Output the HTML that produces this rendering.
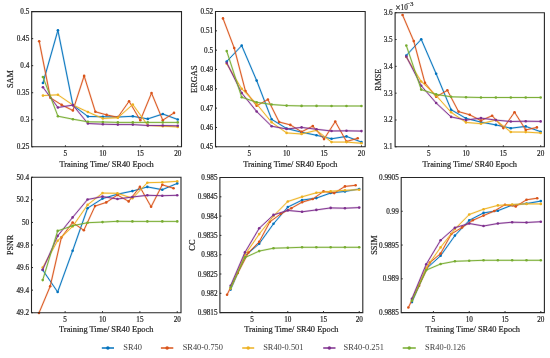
<!DOCTYPE html><html><head><meta charset="utf-8"><style>html,body{margin:0;padding:0;background:#fff;width:550px;height:358px;overflow:hidden}svg{display:block;will-change:transform}</style></head><body>
<svg width="550" height="358" viewBox="0 0 550 358"><style>text{stroke:#262626;stroke-width:0.20px}</style>
<rect width="550" height="358" fill="#fff"/>
<polyline points="42.94,83.00 57.92,30.30 72.90,105.10 87.88,116.50 102.86,116.70 117.84,117.00 132.81,116.30 147.79,118.90 162.77,114.00 177.75,119.50" fill="none" stroke="#0072BD" stroke-width="2.0" stroke-opacity="0.22" stroke-linejoin="round"/>
<polyline points="42.94,83.00 57.92,30.30 72.90,105.10 87.88,116.50 102.86,116.70 117.84,117.00 132.81,116.30 147.79,118.90 162.77,114.00 177.75,119.50" fill="none" stroke="#0072BD" stroke-width="0.95" stroke-linejoin="round"/>
<circle cx="42.94" cy="83.00" r="1.30" fill="#0072BD"/>
<circle cx="57.92" cy="30.30" r="1.30" fill="#0072BD"/>
<circle cx="72.90" cy="105.10" r="1.30" fill="#0072BD"/>
<circle cx="87.88" cy="116.50" r="1.30" fill="#0072BD"/>
<circle cx="102.86" cy="116.70" r="1.30" fill="#0072BD"/>
<circle cx="117.84" cy="117.00" r="1.30" fill="#0072BD"/>
<circle cx="132.81" cy="116.30" r="1.30" fill="#0072BD"/>
<circle cx="147.79" cy="118.90" r="1.30" fill="#0072BD"/>
<circle cx="162.77" cy="114.00" r="1.30" fill="#0072BD"/>
<circle cx="177.75" cy="119.50" r="1.30" fill="#0072BD"/>
<polyline points="39.19,41.20 50.42,97.80 61.66,104.90 72.90,110.50 84.13,75.90 95.37,111.80 106.60,114.90 117.84,117.30 129.07,101.30 140.31,120.30 151.54,93.10 162.77,120.20 174.01,112.90" fill="none" stroke="#D95319" stroke-width="2.0" stroke-opacity="0.22" stroke-linejoin="round"/>
<polyline points="39.19,41.20 50.42,97.80 61.66,104.90 72.90,110.50 84.13,75.90 95.37,111.80 106.60,114.90 117.84,117.30 129.07,101.30 140.31,120.30 151.54,93.10 162.77,120.20 174.01,112.90" fill="none" stroke="#D95319" stroke-width="0.95" stroke-linejoin="round"/>
<circle cx="39.19" cy="41.20" r="1.30" fill="#D95319"/>
<circle cx="50.42" cy="97.80" r="1.30" fill="#D95319"/>
<circle cx="61.66" cy="104.90" r="1.30" fill="#D95319"/>
<circle cx="72.90" cy="110.50" r="1.30" fill="#D95319"/>
<circle cx="84.13" cy="75.90" r="1.30" fill="#D95319"/>
<circle cx="95.37" cy="111.80" r="1.30" fill="#D95319"/>
<circle cx="106.60" cy="114.90" r="1.30" fill="#D95319"/>
<circle cx="117.84" cy="117.30" r="1.30" fill="#D95319"/>
<circle cx="129.07" cy="101.30" r="1.30" fill="#D95319"/>
<circle cx="140.31" cy="120.30" r="1.30" fill="#D95319"/>
<circle cx="151.54" cy="93.10" r="1.30" fill="#D95319"/>
<circle cx="162.77" cy="120.20" r="1.30" fill="#D95319"/>
<circle cx="174.01" cy="112.90" r="1.30" fill="#D95319"/>
<polyline points="42.94,95.60 57.92,94.80 72.90,105.00 87.88,112.00 102.86,118.50 117.84,117.70 132.81,104.50 147.79,125.40 162.77,126.20 177.75,126.90" fill="none" stroke="#EDB120" stroke-width="2.0" stroke-opacity="0.22" stroke-linejoin="round"/>
<polyline points="42.94,95.60 57.92,94.80 72.90,105.00 87.88,112.00 102.86,118.50 117.84,117.70 132.81,104.50 147.79,125.40 162.77,126.20 177.75,126.90" fill="none" stroke="#EDB120" stroke-width="0.95" stroke-linejoin="round"/>
<circle cx="42.94" cy="95.60" r="1.30" fill="#EDB120"/>
<circle cx="57.92" cy="94.80" r="1.30" fill="#EDB120"/>
<circle cx="72.90" cy="105.00" r="1.30" fill="#EDB120"/>
<circle cx="87.88" cy="112.00" r="1.30" fill="#EDB120"/>
<circle cx="102.86" cy="118.50" r="1.30" fill="#EDB120"/>
<circle cx="117.84" cy="117.70" r="1.30" fill="#EDB120"/>
<circle cx="132.81" cy="104.50" r="1.30" fill="#EDB120"/>
<circle cx="147.79" cy="125.40" r="1.30" fill="#EDB120"/>
<circle cx="162.77" cy="126.20" r="1.30" fill="#EDB120"/>
<circle cx="177.75" cy="126.90" r="1.30" fill="#EDB120"/>
<polyline points="42.94,87.20 57.92,107.50 72.90,105.10 87.88,123.50 102.86,124.20 117.84,124.60 132.81,124.60 147.79,125.50 162.77,125.50 177.75,125.80" fill="none" stroke="#7E2F8E" stroke-width="2.0" stroke-opacity="0.22" stroke-linejoin="round"/>
<polyline points="42.94,87.20 57.92,107.50 72.90,105.10 87.88,123.50 102.86,124.20 117.84,124.60 132.81,124.60 147.79,125.50 162.77,125.50 177.75,125.80" fill="none" stroke="#7E2F8E" stroke-width="0.95" stroke-linejoin="round"/>
<circle cx="42.94" cy="87.20" r="1.30" fill="#7E2F8E"/>
<circle cx="57.92" cy="107.50" r="1.30" fill="#7E2F8E"/>
<circle cx="72.90" cy="105.10" r="1.30" fill="#7E2F8E"/>
<circle cx="87.88" cy="123.50" r="1.30" fill="#7E2F8E"/>
<circle cx="102.86" cy="124.20" r="1.30" fill="#7E2F8E"/>
<circle cx="117.84" cy="124.60" r="1.30" fill="#7E2F8E"/>
<circle cx="132.81" cy="124.60" r="1.30" fill="#7E2F8E"/>
<circle cx="147.79" cy="125.50" r="1.30" fill="#7E2F8E"/>
<circle cx="162.77" cy="125.50" r="1.30" fill="#7E2F8E"/>
<circle cx="177.75" cy="125.80" r="1.30" fill="#7E2F8E"/>
<polyline points="42.94,77.00 57.92,116.20 72.90,119.20 87.88,121.80 102.86,122.00 117.84,122.40 132.81,122.40 147.79,122.40 162.77,122.40 177.75,122.40" fill="none" stroke="#77AC30" stroke-width="2.0" stroke-opacity="0.22" stroke-linejoin="round"/>
<polyline points="42.94,77.00 57.92,116.20 72.90,119.20 87.88,121.80 102.86,122.00 117.84,122.40 132.81,122.40 147.79,122.40 162.77,122.40 177.75,122.40" fill="none" stroke="#77AC30" stroke-width="0.95" stroke-linejoin="round"/>
<circle cx="42.94" cy="77.00" r="1.30" fill="#77AC30"/>
<circle cx="57.92" cy="116.20" r="1.30" fill="#77AC30"/>
<circle cx="72.90" cy="119.20" r="1.30" fill="#77AC30"/>
<circle cx="87.88" cy="121.80" r="1.30" fill="#77AC30"/>
<circle cx="102.86" cy="122.00" r="1.30" fill="#77AC30"/>
<circle cx="117.84" cy="122.40" r="1.30" fill="#77AC30"/>
<circle cx="132.81" cy="122.40" r="1.30" fill="#77AC30"/>
<circle cx="147.79" cy="122.40" r="1.30" fill="#77AC30"/>
<circle cx="162.77" cy="122.40" r="1.30" fill="#77AC30"/>
<circle cx="177.75" cy="122.40" r="1.30" fill="#77AC30"/>
<path d="M31.70 11.60H181.50V146.80H31.70Z" fill="none" stroke="#262626" stroke-width="1.10"/>
<line x1="31.70" y1="146.80" x2="33.20" y2="146.80" stroke="#262626" stroke-width="1"/>
<text x="29.30" y="149.30" text-anchor="end" font-family='"Liberation Serif", serif' font-size="7.20" fill="#262626">0.25</text>
<line x1="31.70" y1="119.76" x2="33.20" y2="119.76" stroke="#262626" stroke-width="1"/>
<text x="29.30" y="122.26" text-anchor="end" font-family='"Liberation Serif", serif' font-size="7.20" fill="#262626">0.3</text>
<line x1="31.70" y1="92.72" x2="33.20" y2="92.72" stroke="#262626" stroke-width="1"/>
<text x="29.30" y="95.22" text-anchor="end" font-family='"Liberation Serif", serif' font-size="7.20" fill="#262626">0.35</text>
<line x1="31.70" y1="65.68" x2="33.20" y2="65.68" stroke="#262626" stroke-width="1"/>
<text x="29.30" y="68.18" text-anchor="end" font-family='"Liberation Serif", serif' font-size="7.20" fill="#262626">0.4</text>
<line x1="31.70" y1="38.64" x2="33.20" y2="38.64" stroke="#262626" stroke-width="1"/>
<text x="29.30" y="41.14" text-anchor="end" font-family='"Liberation Serif", serif' font-size="7.20" fill="#262626">0.45</text>
<line x1="31.70" y1="11.60" x2="33.20" y2="11.60" stroke="#262626" stroke-width="1"/>
<text x="29.30" y="14.10" text-anchor="end" font-family='"Liberation Serif", serif' font-size="7.20" fill="#262626">0.5</text>
<line x1="65.41" y1="146.80" x2="65.41" y2="145.30" stroke="#262626" stroke-width="1"/>
<text x="65.41" y="156.00" text-anchor="middle" font-family='"Liberation Serif", serif' font-size="7.20" fill="#262626">5</text>
<line x1="102.86" y1="146.80" x2="102.86" y2="145.30" stroke="#262626" stroke-width="1"/>
<text x="102.86" y="156.00" text-anchor="middle" font-family='"Liberation Serif", serif' font-size="7.20" fill="#262626">10</text>
<line x1="140.31" y1="146.80" x2="140.31" y2="145.30" stroke="#262626" stroke-width="1"/>
<text x="140.31" y="156.00" text-anchor="middle" font-family='"Liberation Serif", serif' font-size="7.20" fill="#262626">15</text>
<line x1="177.75" y1="146.80" x2="177.75" y2="145.30" stroke="#262626" stroke-width="1"/>
<text x="177.75" y="156.00" text-anchor="middle" font-family='"Liberation Serif", serif' font-size="7.20" fill="#262626">20</text>
<text x="106.60" y="166.50" text-anchor="middle" font-family='"Liberation Serif", serif' font-size="8.40" fill="#262626">Training Time/ SR40 Epoch</text>
<text x="0" y="0" transform="translate(13.00 79.20) rotate(-90)" text-anchor="middle" font-family='"Liberation Serif", serif' font-size="8.20" fill="#262626">SAM</text>
<polyline points="226.73,61.50 241.70,45.60 256.67,80.60 271.64,119.30 286.61,128.50 301.58,132.20 316.55,135.30 331.52,138.80 346.49,136.40 361.46,142.10" fill="none" stroke="#0072BD" stroke-width="2.0" stroke-opacity="0.22" stroke-linejoin="round"/>
<polyline points="226.73,61.50 241.70,45.60 256.67,80.60 271.64,119.30 286.61,128.50 301.58,132.20 316.55,135.30 331.52,138.80 346.49,136.40 361.46,142.10" fill="none" stroke="#0072BD" stroke-width="0.95" stroke-linejoin="round"/>
<circle cx="226.73" cy="61.50" r="1.30" fill="#0072BD"/>
<circle cx="241.70" cy="45.60" r="1.30" fill="#0072BD"/>
<circle cx="256.67" cy="80.60" r="1.30" fill="#0072BD"/>
<circle cx="271.64" cy="119.30" r="1.30" fill="#0072BD"/>
<circle cx="286.61" cy="128.50" r="1.30" fill="#0072BD"/>
<circle cx="301.58" cy="132.20" r="1.30" fill="#0072BD"/>
<circle cx="316.55" cy="135.30" r="1.30" fill="#0072BD"/>
<circle cx="331.52" cy="138.80" r="1.30" fill="#0072BD"/>
<circle cx="346.49" cy="136.40" r="1.30" fill="#0072BD"/>
<circle cx="361.46" cy="142.10" r="1.30" fill="#0072BD"/>
<polyline points="222.99,18.40 234.21,48.00 245.44,91.00 256.67,105.80 267.89,99.50 279.12,122.00 290.35,124.90 301.58,131.80 312.81,126.10 324.03,139.10 335.26,121.60 346.49,141.50 357.71,138.30" fill="none" stroke="#D95319" stroke-width="2.0" stroke-opacity="0.22" stroke-linejoin="round"/>
<polyline points="222.99,18.40 234.21,48.00 245.44,91.00 256.67,105.80 267.89,99.50 279.12,122.00 290.35,124.90 301.58,131.80 312.81,126.10 324.03,139.10 335.26,121.60 346.49,141.50 357.71,138.30" fill="none" stroke="#D95319" stroke-width="0.95" stroke-linejoin="round"/>
<circle cx="222.99" cy="18.40" r="1.30" fill="#D95319"/>
<circle cx="234.21" cy="48.00" r="1.30" fill="#D95319"/>
<circle cx="245.44" cy="91.00" r="1.30" fill="#D95319"/>
<circle cx="256.67" cy="105.80" r="1.30" fill="#D95319"/>
<circle cx="267.89" cy="99.50" r="1.30" fill="#D95319"/>
<circle cx="279.12" cy="122.00" r="1.30" fill="#D95319"/>
<circle cx="290.35" cy="124.90" r="1.30" fill="#D95319"/>
<circle cx="301.58" cy="131.80" r="1.30" fill="#D95319"/>
<circle cx="312.81" cy="126.10" r="1.30" fill="#D95319"/>
<circle cx="324.03" cy="139.10" r="1.30" fill="#D95319"/>
<circle cx="335.26" cy="121.60" r="1.30" fill="#D95319"/>
<circle cx="346.49" cy="141.50" r="1.30" fill="#D95319"/>
<circle cx="357.71" cy="138.30" r="1.30" fill="#D95319"/>
<polyline points="226.73,63.80 241.70,88.80 256.67,104.00 271.64,122.30 286.61,132.90 301.58,134.00 316.55,130.30 331.52,142.10 346.49,142.10 361.46,143.30" fill="none" stroke="#EDB120" stroke-width="2.0" stroke-opacity="0.22" stroke-linejoin="round"/>
<polyline points="226.73,63.80 241.70,88.80 256.67,104.00 271.64,122.30 286.61,132.90 301.58,134.00 316.55,130.30 331.52,142.10 346.49,142.10 361.46,143.30" fill="none" stroke="#EDB120" stroke-width="0.95" stroke-linejoin="round"/>
<circle cx="226.73" cy="63.80" r="1.30" fill="#EDB120"/>
<circle cx="241.70" cy="88.80" r="1.30" fill="#EDB120"/>
<circle cx="256.67" cy="104.00" r="1.30" fill="#EDB120"/>
<circle cx="271.64" cy="122.30" r="1.30" fill="#EDB120"/>
<circle cx="286.61" cy="132.90" r="1.30" fill="#EDB120"/>
<circle cx="301.58" cy="134.00" r="1.30" fill="#EDB120"/>
<circle cx="316.55" cy="130.30" r="1.30" fill="#EDB120"/>
<circle cx="331.52" cy="142.10" r="1.30" fill="#EDB120"/>
<circle cx="346.49" cy="142.10" r="1.30" fill="#EDB120"/>
<circle cx="361.46" cy="143.30" r="1.30" fill="#EDB120"/>
<polyline points="226.73,62.70 241.70,93.00 256.67,111.50 271.64,126.20 286.61,129.00 301.58,127.40 316.55,129.30 331.52,131.00 346.49,130.80 361.46,131.10" fill="none" stroke="#7E2F8E" stroke-width="2.0" stroke-opacity="0.22" stroke-linejoin="round"/>
<polyline points="226.73,62.70 241.70,93.00 256.67,111.50 271.64,126.20 286.61,129.00 301.58,127.40 316.55,129.30 331.52,131.00 346.49,130.80 361.46,131.10" fill="none" stroke="#7E2F8E" stroke-width="0.95" stroke-linejoin="round"/>
<circle cx="226.73" cy="62.70" r="1.30" fill="#7E2F8E"/>
<circle cx="241.70" cy="93.00" r="1.30" fill="#7E2F8E"/>
<circle cx="256.67" cy="111.50" r="1.30" fill="#7E2F8E"/>
<circle cx="271.64" cy="126.20" r="1.30" fill="#7E2F8E"/>
<circle cx="286.61" cy="129.00" r="1.30" fill="#7E2F8E"/>
<circle cx="301.58" cy="127.40" r="1.30" fill="#7E2F8E"/>
<circle cx="316.55" cy="129.30" r="1.30" fill="#7E2F8E"/>
<circle cx="331.52" cy="131.00" r="1.30" fill="#7E2F8E"/>
<circle cx="346.49" cy="130.80" r="1.30" fill="#7E2F8E"/>
<circle cx="361.46" cy="131.10" r="1.30" fill="#7E2F8E"/>
<polyline points="226.73,51.10 241.70,97.20 256.67,102.30 271.64,104.50 286.61,105.60 301.58,105.90 316.55,105.90 331.52,106.00 346.49,106.00 361.46,106.00" fill="none" stroke="#77AC30" stroke-width="2.0" stroke-opacity="0.22" stroke-linejoin="round"/>
<polyline points="226.73,51.10 241.70,97.20 256.67,102.30 271.64,104.50 286.61,105.60 301.58,105.90 316.55,105.90 331.52,106.00 346.49,106.00 361.46,106.00" fill="none" stroke="#77AC30" stroke-width="0.95" stroke-linejoin="round"/>
<circle cx="226.73" cy="51.10" r="1.30" fill="#77AC30"/>
<circle cx="241.70" cy="97.20" r="1.30" fill="#77AC30"/>
<circle cx="256.67" cy="102.30" r="1.30" fill="#77AC30"/>
<circle cx="271.64" cy="104.50" r="1.30" fill="#77AC30"/>
<circle cx="286.61" cy="105.60" r="1.30" fill="#77AC30"/>
<circle cx="301.58" cy="105.90" r="1.30" fill="#77AC30"/>
<circle cx="316.55" cy="105.90" r="1.30" fill="#77AC30"/>
<circle cx="331.52" cy="106.00" r="1.30" fill="#77AC30"/>
<circle cx="346.49" cy="106.00" r="1.30" fill="#77AC30"/>
<circle cx="361.46" cy="106.00" r="1.30" fill="#77AC30"/>
<path d="M215.50 11.50H365.20V146.80H215.50Z" fill="none" stroke="#262626" stroke-width="1.10"/>
<line x1="215.50" y1="146.80" x2="217.00" y2="146.80" stroke="#262626" stroke-width="1"/>
<text x="213.10" y="149.30" text-anchor="end" font-family='"Liberation Serif", serif' font-size="7.20" fill="#262626">0.45</text>
<line x1="215.50" y1="127.47" x2="217.00" y2="127.47" stroke="#262626" stroke-width="1"/>
<text x="213.10" y="129.97" text-anchor="end" font-family='"Liberation Serif", serif' font-size="7.20" fill="#262626">0.46</text>
<line x1="215.50" y1="108.14" x2="217.00" y2="108.14" stroke="#262626" stroke-width="1"/>
<text x="213.10" y="110.64" text-anchor="end" font-family='"Liberation Serif", serif' font-size="7.20" fill="#262626">0.47</text>
<line x1="215.50" y1="88.81" x2="217.00" y2="88.81" stroke="#262626" stroke-width="1"/>
<text x="213.10" y="91.31" text-anchor="end" font-family='"Liberation Serif", serif' font-size="7.20" fill="#262626">0.48</text>
<line x1="215.50" y1="69.49" x2="217.00" y2="69.49" stroke="#262626" stroke-width="1"/>
<text x="213.10" y="71.99" text-anchor="end" font-family='"Liberation Serif", serif' font-size="7.20" fill="#262626">0.49</text>
<line x1="215.50" y1="50.16" x2="217.00" y2="50.16" stroke="#262626" stroke-width="1"/>
<text x="213.10" y="52.66" text-anchor="end" font-family='"Liberation Serif", serif' font-size="7.20" fill="#262626">0.5</text>
<line x1="215.50" y1="30.83" x2="217.00" y2="30.83" stroke="#262626" stroke-width="1"/>
<text x="213.10" y="33.33" text-anchor="end" font-family='"Liberation Serif", serif' font-size="7.20" fill="#262626">0.51</text>
<line x1="215.50" y1="11.50" x2="217.00" y2="11.50" stroke="#262626" stroke-width="1"/>
<text x="213.10" y="14.00" text-anchor="end" font-family='"Liberation Serif", serif' font-size="7.20" fill="#262626">0.52</text>
<line x1="249.18" y1="146.80" x2="249.18" y2="145.30" stroke="#262626" stroke-width="1"/>
<text x="249.18" y="156.00" text-anchor="middle" font-family='"Liberation Serif", serif' font-size="7.20" fill="#262626">5</text>
<line x1="286.61" y1="146.80" x2="286.61" y2="145.30" stroke="#262626" stroke-width="1"/>
<text x="286.61" y="156.00" text-anchor="middle" font-family='"Liberation Serif", serif' font-size="7.20" fill="#262626">10</text>
<line x1="324.03" y1="146.80" x2="324.03" y2="145.30" stroke="#262626" stroke-width="1"/>
<text x="324.03" y="156.00" text-anchor="middle" font-family='"Liberation Serif", serif' font-size="7.20" fill="#262626">15</text>
<line x1="361.46" y1="146.80" x2="361.46" y2="145.30" stroke="#262626" stroke-width="1"/>
<text x="361.46" y="156.00" text-anchor="middle" font-family='"Liberation Serif", serif' font-size="7.20" fill="#262626">20</text>
<text x="290.35" y="166.50" text-anchor="middle" font-family='"Liberation Serif", serif' font-size="8.40" fill="#262626">Training Time/ SR40 Epoch</text>
<text x="0" y="0" transform="translate(196.70 79.15) rotate(-90)" text-anchor="middle" font-family='"Liberation Serif", serif' font-size="8.40" fill="#262626">ERGAS</text>
<polyline points="406.30,55.50 421.23,39.30 436.16,73.80 451.09,109.70 466.02,118.40 480.95,122.10 495.88,124.90 510.81,128.20 525.74,126.40 540.67,131.70" fill="none" stroke="#0072BD" stroke-width="2.0" stroke-opacity="0.22" stroke-linejoin="round"/>
<polyline points="406.30,55.50 421.23,39.30 436.16,73.80 451.09,109.70 466.02,118.40 480.95,122.10 495.88,124.90 510.81,128.20 525.74,126.40 540.67,131.70" fill="none" stroke="#0072BD" stroke-width="0.95" stroke-linejoin="round"/>
<circle cx="406.30" cy="55.50" r="1.30" fill="#0072BD"/>
<circle cx="421.23" cy="39.30" r="1.30" fill="#0072BD"/>
<circle cx="436.16" cy="73.80" r="1.30" fill="#0072BD"/>
<circle cx="451.09" cy="109.70" r="1.30" fill="#0072BD"/>
<circle cx="466.02" cy="118.40" r="1.30" fill="#0072BD"/>
<circle cx="480.95" cy="122.10" r="1.30" fill="#0072BD"/>
<circle cx="495.88" cy="124.90" r="1.30" fill="#0072BD"/>
<circle cx="510.81" cy="128.20" r="1.30" fill="#0072BD"/>
<circle cx="525.74" cy="126.40" r="1.30" fill="#0072BD"/>
<circle cx="540.67" cy="131.70" r="1.30" fill="#0072BD"/>
<polyline points="402.56,15.00 413.76,41.10 424.96,82.90 436.16,96.80 447.36,90.30 458.55,111.60 469.75,114.80 480.95,120.60 492.14,115.70 503.34,128.10 514.54,112.20 525.74,129.90 536.93,127.40" fill="none" stroke="#D95319" stroke-width="2.0" stroke-opacity="0.22" stroke-linejoin="round"/>
<polyline points="402.56,15.00 413.76,41.10 424.96,82.90 436.16,96.80 447.36,90.30 458.55,111.60 469.75,114.80 480.95,120.60 492.14,115.70 503.34,128.10 514.54,112.20 525.74,129.90 536.93,127.40" fill="none" stroke="#D95319" stroke-width="0.95" stroke-linejoin="round"/>
<circle cx="402.56" cy="15.00" r="1.30" fill="#D95319"/>
<circle cx="413.76" cy="41.10" r="1.30" fill="#D95319"/>
<circle cx="424.96" cy="82.90" r="1.30" fill="#D95319"/>
<circle cx="436.16" cy="96.80" r="1.30" fill="#D95319"/>
<circle cx="447.36" cy="90.30" r="1.30" fill="#D95319"/>
<circle cx="458.55" cy="111.60" r="1.30" fill="#D95319"/>
<circle cx="469.75" cy="114.80" r="1.30" fill="#D95319"/>
<circle cx="480.95" cy="120.60" r="1.30" fill="#D95319"/>
<circle cx="492.14" cy="115.70" r="1.30" fill="#D95319"/>
<circle cx="503.34" cy="128.10" r="1.30" fill="#D95319"/>
<circle cx="514.54" cy="112.20" r="1.30" fill="#D95319"/>
<circle cx="525.74" cy="129.90" r="1.30" fill="#D95319"/>
<circle cx="536.93" cy="127.40" r="1.30" fill="#D95319"/>
<polyline points="406.30,57.00 421.23,81.50 436.16,95.50 451.09,112.30 466.02,122.40 480.95,123.70 495.88,120.10 510.81,132.00 525.74,132.10 540.67,133.00" fill="none" stroke="#EDB120" stroke-width="2.0" stroke-opacity="0.22" stroke-linejoin="round"/>
<polyline points="406.30,57.00 421.23,81.50 436.16,95.50 451.09,112.30 466.02,122.40 480.95,123.70 495.88,120.10 510.81,132.00 525.74,132.10 540.67,133.00" fill="none" stroke="#EDB120" stroke-width="0.95" stroke-linejoin="round"/>
<circle cx="406.30" cy="57.00" r="1.30" fill="#EDB120"/>
<circle cx="421.23" cy="81.50" r="1.30" fill="#EDB120"/>
<circle cx="436.16" cy="95.50" r="1.30" fill="#EDB120"/>
<circle cx="451.09" cy="112.30" r="1.30" fill="#EDB120"/>
<circle cx="466.02" cy="122.40" r="1.30" fill="#EDB120"/>
<circle cx="480.95" cy="123.70" r="1.30" fill="#EDB120"/>
<circle cx="495.88" cy="120.10" r="1.30" fill="#EDB120"/>
<circle cx="510.81" cy="132.00" r="1.30" fill="#EDB120"/>
<circle cx="525.74" cy="132.10" r="1.30" fill="#EDB120"/>
<circle cx="540.67" cy="133.00" r="1.30" fill="#EDB120"/>
<polyline points="406.30,56.50 421.23,85.70 436.16,103.00 451.09,116.90 466.02,120.10 480.95,118.10 495.88,120.10 510.81,121.50 525.74,121.20 540.67,121.40" fill="none" stroke="#7E2F8E" stroke-width="2.0" stroke-opacity="0.22" stroke-linejoin="round"/>
<polyline points="406.30,56.50 421.23,85.70 436.16,103.00 451.09,116.90 466.02,120.10 480.95,118.10 495.88,120.10 510.81,121.50 525.74,121.20 540.67,121.40" fill="none" stroke="#7E2F8E" stroke-width="0.95" stroke-linejoin="round"/>
<circle cx="406.30" cy="56.50" r="1.30" fill="#7E2F8E"/>
<circle cx="421.23" cy="85.70" r="1.30" fill="#7E2F8E"/>
<circle cx="436.16" cy="103.00" r="1.30" fill="#7E2F8E"/>
<circle cx="451.09" cy="116.90" r="1.30" fill="#7E2F8E"/>
<circle cx="466.02" cy="120.10" r="1.30" fill="#7E2F8E"/>
<circle cx="480.95" cy="118.10" r="1.30" fill="#7E2F8E"/>
<circle cx="495.88" cy="120.10" r="1.30" fill="#7E2F8E"/>
<circle cx="510.81" cy="121.50" r="1.30" fill="#7E2F8E"/>
<circle cx="525.74" cy="121.20" r="1.30" fill="#7E2F8E"/>
<circle cx="540.67" cy="121.40" r="1.30" fill="#7E2F8E"/>
<polyline points="406.30,45.50 421.23,89.60 436.16,94.40 451.09,96.80 466.02,97.20 480.95,97.50 495.88,97.50 510.81,97.50 525.74,97.50 540.67,97.50" fill="none" stroke="#77AC30" stroke-width="2.0" stroke-opacity="0.22" stroke-linejoin="round"/>
<polyline points="406.30,45.50 421.23,89.60 436.16,94.40 451.09,96.80 466.02,97.20 480.95,97.50 495.88,97.50 510.81,97.50 525.74,97.50 540.67,97.50" fill="none" stroke="#77AC30" stroke-width="0.95" stroke-linejoin="round"/>
<circle cx="406.30" cy="45.50" r="1.30" fill="#77AC30"/>
<circle cx="421.23" cy="89.60" r="1.30" fill="#77AC30"/>
<circle cx="436.16" cy="94.40" r="1.30" fill="#77AC30"/>
<circle cx="451.09" cy="96.80" r="1.30" fill="#77AC30"/>
<circle cx="466.02" cy="97.20" r="1.30" fill="#77AC30"/>
<circle cx="480.95" cy="97.50" r="1.30" fill="#77AC30"/>
<circle cx="495.88" cy="97.50" r="1.30" fill="#77AC30"/>
<circle cx="510.81" cy="97.50" r="1.30" fill="#77AC30"/>
<circle cx="525.74" cy="97.50" r="1.30" fill="#77AC30"/>
<circle cx="540.67" cy="97.50" r="1.30" fill="#77AC30"/>
<path d="M395.10 12.70H544.40V146.80H395.10Z" fill="none" stroke="#262626" stroke-width="1.10"/>
<line x1="395.10" y1="146.80" x2="396.60" y2="146.80" stroke="#262626" stroke-width="1"/>
<text x="392.70" y="149.30" text-anchor="end" font-family='"Liberation Serif", serif' font-size="7.20" fill="#262626">3.1</text>
<line x1="395.10" y1="119.98" x2="396.60" y2="119.98" stroke="#262626" stroke-width="1"/>
<text x="392.70" y="122.48" text-anchor="end" font-family='"Liberation Serif", serif' font-size="7.20" fill="#262626">3.2</text>
<line x1="395.10" y1="93.16" x2="396.60" y2="93.16" stroke="#262626" stroke-width="1"/>
<text x="392.70" y="95.66" text-anchor="end" font-family='"Liberation Serif", serif' font-size="7.20" fill="#262626">3.3</text>
<line x1="395.10" y1="66.34" x2="396.60" y2="66.34" stroke="#262626" stroke-width="1"/>
<text x="392.70" y="68.84" text-anchor="end" font-family='"Liberation Serif", serif' font-size="7.20" fill="#262626">3.4</text>
<line x1="395.10" y1="39.52" x2="396.60" y2="39.52" stroke="#262626" stroke-width="1"/>
<text x="392.70" y="42.02" text-anchor="end" font-family='"Liberation Serif", serif' font-size="7.20" fill="#262626">3.5</text>
<line x1="395.10" y1="12.70" x2="396.60" y2="12.70" stroke="#262626" stroke-width="1"/>
<text x="392.70" y="15.20" text-anchor="end" font-family='"Liberation Serif", serif' font-size="7.20" fill="#262626">3.6</text>
<line x1="428.69" y1="146.80" x2="428.69" y2="145.30" stroke="#262626" stroke-width="1"/>
<text x="428.69" y="156.00" text-anchor="middle" font-family='"Liberation Serif", serif' font-size="7.20" fill="#262626">5</text>
<line x1="466.02" y1="146.80" x2="466.02" y2="145.30" stroke="#262626" stroke-width="1"/>
<text x="466.02" y="156.00" text-anchor="middle" font-family='"Liberation Serif", serif' font-size="7.20" fill="#262626">10</text>
<line x1="503.34" y1="146.80" x2="503.34" y2="145.30" stroke="#262626" stroke-width="1"/>
<text x="503.34" y="156.00" text-anchor="middle" font-family='"Liberation Serif", serif' font-size="7.20" fill="#262626">15</text>
<line x1="540.67" y1="146.80" x2="540.67" y2="145.30" stroke="#262626" stroke-width="1"/>
<text x="540.67" y="156.00" text-anchor="middle" font-family='"Liberation Serif", serif' font-size="7.20" fill="#262626">20</text>
<text x="469.75" y="166.50" text-anchor="middle" font-family='"Liberation Serif", serif' font-size="8.40" fill="#262626">Training Time/ SR40 Epoch</text>
<text x="0" y="0" transform="translate(381.10 79.75) rotate(-90)" text-anchor="middle" font-family='"Liberation Serif", serif' font-size="8.00" fill="#262626">RMSE</text>
<text x="395.2" y="11.0" font-family='"Liberation Serif", serif' font-size="9.6" fill="#262626">×</text>
<text x="400.6" y="9.6" font-family='"Liberation Serif", serif' font-size="7.2" fill="#262626">10</text>
<text x="406.6" y="6.2" font-family='"Liberation Serif", serif' font-size="6.3" fill="#262626">−3</text>
<polyline points="42.71,270.00 57.66,292.00 72.61,250.80 87.56,208.20 102.51,198.60 117.46,194.20 132.41,191.10 147.36,186.90 162.31,189.70 177.26,183.40" fill="none" stroke="#0072BD" stroke-width="2.0" stroke-opacity="0.22" stroke-linejoin="round"/>
<polyline points="42.71,270.00 57.66,292.00 72.61,250.80 87.56,208.20 102.51,198.60 117.46,194.20 132.41,191.10 147.36,186.90 162.31,189.70 177.26,183.40" fill="none" stroke="#0072BD" stroke-width="0.95" stroke-linejoin="round"/>
<circle cx="42.71" cy="270.00" r="1.30" fill="#0072BD"/>
<circle cx="57.66" cy="292.00" r="1.30" fill="#0072BD"/>
<circle cx="72.61" cy="250.80" r="1.30" fill="#0072BD"/>
<circle cx="87.56" cy="208.20" r="1.30" fill="#0072BD"/>
<circle cx="102.51" cy="198.60" r="1.30" fill="#0072BD"/>
<circle cx="117.46" cy="194.20" r="1.30" fill="#0072BD"/>
<circle cx="132.41" cy="191.10" r="1.30" fill="#0072BD"/>
<circle cx="147.36" cy="186.90" r="1.30" fill="#0072BD"/>
<circle cx="162.31" cy="189.70" r="1.30" fill="#0072BD"/>
<circle cx="177.26" cy="183.40" r="1.30" fill="#0072BD"/>
<polyline points="38.98,313.00 50.19,286.30 61.40,237.40 72.61,222.50 83.83,230.30 95.04,206.10 106.25,202.40 117.46,195.00 128.68,201.40 139.89,186.90 151.10,206.80 162.31,184.80 173.53,188.30" fill="none" stroke="#D95319" stroke-width="2.0" stroke-opacity="0.22" stroke-linejoin="round"/>
<polyline points="38.98,313.00 50.19,286.30 61.40,237.40 72.61,222.50 83.83,230.30 95.04,206.10 106.25,202.40 117.46,195.00 128.68,201.40 139.89,186.90 151.10,206.80 162.31,184.80 173.53,188.30" fill="none" stroke="#D95319" stroke-width="0.95" stroke-linejoin="round"/>
<circle cx="38.98" cy="313.00" r="1.30" fill="#D95319"/>
<circle cx="50.19" cy="286.30" r="1.30" fill="#D95319"/>
<circle cx="61.40" cy="237.40" r="1.30" fill="#D95319"/>
<circle cx="72.61" cy="222.50" r="1.30" fill="#D95319"/>
<circle cx="83.83" cy="230.30" r="1.30" fill="#D95319"/>
<circle cx="95.04" cy="206.10" r="1.30" fill="#D95319"/>
<circle cx="106.25" cy="202.40" r="1.30" fill="#D95319"/>
<circle cx="117.46" cy="195.00" r="1.30" fill="#D95319"/>
<circle cx="128.68" cy="201.40" r="1.30" fill="#D95319"/>
<circle cx="139.89" cy="186.90" r="1.30" fill="#D95319"/>
<circle cx="151.10" cy="206.80" r="1.30" fill="#D95319"/>
<circle cx="162.31" cy="184.80" r="1.30" fill="#D95319"/>
<circle cx="173.53" cy="188.30" r="1.30" fill="#D95319"/>
<polyline points="42.71,267.60 57.66,240.70 72.61,226.50 87.56,204.90 102.51,193.10 117.46,193.30 132.41,198.30 147.36,182.70 162.31,182.30 177.26,181.30" fill="none" stroke="#EDB120" stroke-width="2.0" stroke-opacity="0.22" stroke-linejoin="round"/>
<polyline points="42.71,267.60 57.66,240.70 72.61,226.50 87.56,204.90 102.51,193.10 117.46,193.30 132.41,198.30 147.36,182.70 162.31,182.30 177.26,181.30" fill="none" stroke="#EDB120" stroke-width="0.95" stroke-linejoin="round"/>
<circle cx="42.71" cy="267.60" r="1.30" fill="#EDB120"/>
<circle cx="57.66" cy="240.70" r="1.30" fill="#EDB120"/>
<circle cx="72.61" cy="226.50" r="1.30" fill="#EDB120"/>
<circle cx="87.56" cy="204.90" r="1.30" fill="#EDB120"/>
<circle cx="102.51" cy="193.10" r="1.30" fill="#EDB120"/>
<circle cx="117.46" cy="193.30" r="1.30" fill="#EDB120"/>
<circle cx="132.41" cy="198.30" r="1.30" fill="#EDB120"/>
<circle cx="147.36" cy="182.70" r="1.30" fill="#EDB120"/>
<circle cx="162.31" cy="182.30" r="1.30" fill="#EDB120"/>
<circle cx="177.26" cy="181.30" r="1.30" fill="#EDB120"/>
<polyline points="42.71,269.70 57.66,235.90 72.61,217.40 87.56,199.50 102.51,196.60 117.46,199.00 132.41,197.00 147.36,195.30 162.31,195.70 177.26,195.30" fill="none" stroke="#7E2F8E" stroke-width="2.0" stroke-opacity="0.22" stroke-linejoin="round"/>
<polyline points="42.71,269.70 57.66,235.90 72.61,217.40 87.56,199.50 102.51,196.60 117.46,199.00 132.41,197.00 147.36,195.30 162.31,195.70 177.26,195.30" fill="none" stroke="#7E2F8E" stroke-width="0.95" stroke-linejoin="round"/>
<circle cx="42.71" cy="269.70" r="1.30" fill="#7E2F8E"/>
<circle cx="57.66" cy="235.90" r="1.30" fill="#7E2F8E"/>
<circle cx="72.61" cy="217.40" r="1.30" fill="#7E2F8E"/>
<circle cx="87.56" cy="199.50" r="1.30" fill="#7E2F8E"/>
<circle cx="102.51" cy="196.60" r="1.30" fill="#7E2F8E"/>
<circle cx="117.46" cy="199.00" r="1.30" fill="#7E2F8E"/>
<circle cx="132.41" cy="197.00" r="1.30" fill="#7E2F8E"/>
<circle cx="147.36" cy="195.30" r="1.30" fill="#7E2F8E"/>
<circle cx="162.31" cy="195.70" r="1.30" fill="#7E2F8E"/>
<circle cx="177.26" cy="195.30" r="1.30" fill="#7E2F8E"/>
<polyline points="42.71,280.10 57.66,230.90 72.61,225.80 87.56,222.70 102.51,222.10 117.46,221.30 132.41,221.40 147.36,221.40 162.31,221.40 177.26,221.40" fill="none" stroke="#77AC30" stroke-width="2.0" stroke-opacity="0.22" stroke-linejoin="round"/>
<polyline points="42.71,280.10 57.66,230.90 72.61,225.80 87.56,222.70 102.51,222.10 117.46,221.30 132.41,221.40 147.36,221.40 162.31,221.40 177.26,221.40" fill="none" stroke="#77AC30" stroke-width="0.95" stroke-linejoin="round"/>
<circle cx="42.71" cy="280.10" r="1.30" fill="#77AC30"/>
<circle cx="57.66" cy="230.90" r="1.30" fill="#77AC30"/>
<circle cx="72.61" cy="225.80" r="1.30" fill="#77AC30"/>
<circle cx="87.56" cy="222.70" r="1.30" fill="#77AC30"/>
<circle cx="102.51" cy="222.10" r="1.30" fill="#77AC30"/>
<circle cx="117.46" cy="221.30" r="1.30" fill="#77AC30"/>
<circle cx="132.41" cy="221.40" r="1.30" fill="#77AC30"/>
<circle cx="147.36" cy="221.40" r="1.30" fill="#77AC30"/>
<circle cx="162.31" cy="221.40" r="1.30" fill="#77AC30"/>
<circle cx="177.26" cy="221.40" r="1.30" fill="#77AC30"/>
<path d="M31.50 177.30H181.00V312.70H31.50Z" fill="none" stroke="#262626" stroke-width="1.10"/>
<line x1="31.50" y1="312.70" x2="33.00" y2="312.70" stroke="#262626" stroke-width="1"/>
<text x="29.10" y="315.20" text-anchor="end" font-family='"Liberation Serif", serif' font-size="7.20" fill="#262626">49.2</text>
<line x1="31.50" y1="290.13" x2="33.00" y2="290.13" stroke="#262626" stroke-width="1"/>
<text x="29.10" y="292.63" text-anchor="end" font-family='"Liberation Serif", serif' font-size="7.20" fill="#262626">49.4</text>
<line x1="31.50" y1="267.57" x2="33.00" y2="267.57" stroke="#262626" stroke-width="1"/>
<text x="29.10" y="270.07" text-anchor="end" font-family='"Liberation Serif", serif' font-size="7.20" fill="#262626">49.6</text>
<line x1="31.50" y1="245.00" x2="33.00" y2="245.00" stroke="#262626" stroke-width="1"/>
<text x="29.10" y="247.50" text-anchor="end" font-family='"Liberation Serif", serif' font-size="7.20" fill="#262626">49.8</text>
<line x1="31.50" y1="222.43" x2="33.00" y2="222.43" stroke="#262626" stroke-width="1"/>
<text x="29.10" y="224.93" text-anchor="end" font-family='"Liberation Serif", serif' font-size="7.20" fill="#262626">50</text>
<line x1="31.50" y1="199.87" x2="33.00" y2="199.87" stroke="#262626" stroke-width="1"/>
<text x="29.10" y="202.37" text-anchor="end" font-family='"Liberation Serif", serif' font-size="7.20" fill="#262626">50.2</text>
<line x1="31.50" y1="177.30" x2="33.00" y2="177.30" stroke="#262626" stroke-width="1"/>
<text x="29.10" y="179.80" text-anchor="end" font-family='"Liberation Serif", serif' font-size="7.20" fill="#262626">50.4</text>
<line x1="65.14" y1="312.70" x2="65.14" y2="311.20" stroke="#262626" stroke-width="1"/>
<text x="65.14" y="321.90" text-anchor="middle" font-family='"Liberation Serif", serif' font-size="7.20" fill="#262626">5</text>
<line x1="102.51" y1="312.70" x2="102.51" y2="311.20" stroke="#262626" stroke-width="1"/>
<text x="102.51" y="321.90" text-anchor="middle" font-family='"Liberation Serif", serif' font-size="7.20" fill="#262626">10</text>
<line x1="139.89" y1="312.70" x2="139.89" y2="311.20" stroke="#262626" stroke-width="1"/>
<text x="139.89" y="321.90" text-anchor="middle" font-family='"Liberation Serif", serif' font-size="7.20" fill="#262626">15</text>
<line x1="177.26" y1="312.70" x2="177.26" y2="311.20" stroke="#262626" stroke-width="1"/>
<text x="177.26" y="321.90" text-anchor="middle" font-family='"Liberation Serif", serif' font-size="7.20" fill="#262626">20</text>
<text x="106.25" y="332.40" text-anchor="middle" font-family='"Liberation Serif", serif' font-size="8.40" fill="#262626">Training Time/ SR40 Epoch</text>
<text x="0" y="0" transform="translate(12.80 245.00) rotate(-90)" text-anchor="middle" font-family='"Liberation Serif", serif' font-size="8.00" fill="#262626">PSNR</text>
<polyline points="230.62,289.60 244.91,256.00 259.20,243.70 273.49,223.80 287.78,207.10 302.07,200.10 316.36,198.10 330.65,193.00 344.94,191.40 359.23,189.00" fill="none" stroke="#0072BD" stroke-width="2.0" stroke-opacity="0.22" stroke-linejoin="round"/>
<polyline points="230.62,289.60 244.91,256.00 259.20,243.70 273.49,223.80 287.78,207.10 302.07,200.10 316.36,198.10 330.65,193.00 344.94,191.40 359.23,189.00" fill="none" stroke="#0072BD" stroke-width="0.95" stroke-linejoin="round"/>
<circle cx="230.62" cy="289.60" r="1.30" fill="#0072BD"/>
<circle cx="244.91" cy="256.00" r="1.30" fill="#0072BD"/>
<circle cx="259.20" cy="243.70" r="1.30" fill="#0072BD"/>
<circle cx="273.49" cy="223.80" r="1.30" fill="#0072BD"/>
<circle cx="287.78" cy="207.10" r="1.30" fill="#0072BD"/>
<circle cx="302.07" cy="200.10" r="1.30" fill="#0072BD"/>
<circle cx="316.36" cy="198.10" r="1.30" fill="#0072BD"/>
<circle cx="330.65" cy="193.00" r="1.30" fill="#0072BD"/>
<circle cx="344.94" cy="191.40" r="1.30" fill="#0072BD"/>
<circle cx="359.23" cy="189.00" r="1.30" fill="#0072BD"/>
<polyline points="227.05,294.80 237.76,273.00 248.48,252.60 259.20,241.80 269.92,221.80 280.63,214.00 291.35,208.20 302.07,202.20 312.79,199.00 323.50,191.40 334.22,193.10 344.94,186.40 355.65,185.30" fill="none" stroke="#D95319" stroke-width="2.0" stroke-opacity="0.22" stroke-linejoin="round"/>
<polyline points="227.05,294.80 237.76,273.00 248.48,252.60 259.20,241.80 269.92,221.80 280.63,214.00 291.35,208.20 302.07,202.20 312.79,199.00 323.50,191.40 334.22,193.10 344.94,186.40 355.65,185.30" fill="none" stroke="#D95319" stroke-width="0.95" stroke-linejoin="round"/>
<circle cx="227.05" cy="294.80" r="1.30" fill="#D95319"/>
<circle cx="237.76" cy="273.00" r="1.30" fill="#D95319"/>
<circle cx="248.48" cy="252.60" r="1.30" fill="#D95319"/>
<circle cx="259.20" cy="241.80" r="1.30" fill="#D95319"/>
<circle cx="269.92" cy="221.80" r="1.30" fill="#D95319"/>
<circle cx="280.63" cy="214.00" r="1.30" fill="#D95319"/>
<circle cx="291.35" cy="208.20" r="1.30" fill="#D95319"/>
<circle cx="302.07" cy="202.20" r="1.30" fill="#D95319"/>
<circle cx="312.79" cy="199.00" r="1.30" fill="#D95319"/>
<circle cx="323.50" cy="191.40" r="1.30" fill="#D95319"/>
<circle cx="334.22" cy="193.10" r="1.30" fill="#D95319"/>
<circle cx="344.94" cy="186.40" r="1.30" fill="#D95319"/>
<circle cx="355.65" cy="185.30" r="1.30" fill="#D95319"/>
<polyline points="230.62,288.50 244.91,255.00 259.20,234.10 273.49,216.00 287.78,201.50 302.07,196.80 316.36,192.80 330.65,191.30 344.94,190.30 359.23,189.70" fill="none" stroke="#EDB120" stroke-width="2.0" stroke-opacity="0.22" stroke-linejoin="round"/>
<polyline points="230.62,288.50 244.91,255.00 259.20,234.10 273.49,216.00 287.78,201.50 302.07,196.80 316.36,192.80 330.65,191.30 344.94,190.30 359.23,189.70" fill="none" stroke="#EDB120" stroke-width="0.95" stroke-linejoin="round"/>
<circle cx="230.62" cy="288.50" r="1.30" fill="#EDB120"/>
<circle cx="244.91" cy="255.00" r="1.30" fill="#EDB120"/>
<circle cx="259.20" cy="234.10" r="1.30" fill="#EDB120"/>
<circle cx="273.49" cy="216.00" r="1.30" fill="#EDB120"/>
<circle cx="287.78" cy="201.50" r="1.30" fill="#EDB120"/>
<circle cx="302.07" cy="196.80" r="1.30" fill="#EDB120"/>
<circle cx="316.36" cy="192.80" r="1.30" fill="#EDB120"/>
<circle cx="330.65" cy="191.30" r="1.30" fill="#EDB120"/>
<circle cx="344.94" cy="190.30" r="1.30" fill="#EDB120"/>
<circle cx="359.23" cy="189.70" r="1.30" fill="#EDB120"/>
<polyline points="230.62,285.70 244.91,252.40 259.20,228.30 273.49,214.90 287.78,210.40 302.07,211.80 316.36,209.90 330.65,207.90 344.94,208.20 359.23,207.60" fill="none" stroke="#7E2F8E" stroke-width="2.0" stroke-opacity="0.22" stroke-linejoin="round"/>
<polyline points="230.62,285.70 244.91,252.40 259.20,228.30 273.49,214.90 287.78,210.40 302.07,211.80 316.36,209.90 330.65,207.90 344.94,208.20 359.23,207.60" fill="none" stroke="#7E2F8E" stroke-width="0.95" stroke-linejoin="round"/>
<circle cx="230.62" cy="285.70" r="1.30" fill="#7E2F8E"/>
<circle cx="244.91" cy="252.40" r="1.30" fill="#7E2F8E"/>
<circle cx="259.20" cy="228.30" r="1.30" fill="#7E2F8E"/>
<circle cx="273.49" cy="214.90" r="1.30" fill="#7E2F8E"/>
<circle cx="287.78" cy="210.40" r="1.30" fill="#7E2F8E"/>
<circle cx="302.07" cy="211.80" r="1.30" fill="#7E2F8E"/>
<circle cx="316.36" cy="209.90" r="1.30" fill="#7E2F8E"/>
<circle cx="330.65" cy="207.90" r="1.30" fill="#7E2F8E"/>
<circle cx="344.94" cy="208.20" r="1.30" fill="#7E2F8E"/>
<circle cx="359.23" cy="207.60" r="1.30" fill="#7E2F8E"/>
<polyline points="230.62,287.50 244.91,257.60 259.20,251.10 273.49,248.20 287.78,247.80 302.07,247.30 316.36,247.30 330.65,247.30 344.94,247.30 359.23,247.30" fill="none" stroke="#77AC30" stroke-width="2.0" stroke-opacity="0.22" stroke-linejoin="round"/>
<polyline points="230.62,287.50 244.91,257.60 259.20,251.10 273.49,248.20 287.78,247.80 302.07,247.30 316.36,247.30 330.65,247.30 344.94,247.30 359.23,247.30" fill="none" stroke="#77AC30" stroke-width="0.95" stroke-linejoin="round"/>
<circle cx="230.62" cy="287.50" r="1.30" fill="#77AC30"/>
<circle cx="244.91" cy="257.60" r="1.30" fill="#77AC30"/>
<circle cx="259.20" cy="251.10" r="1.30" fill="#77AC30"/>
<circle cx="273.49" cy="248.20" r="1.30" fill="#77AC30"/>
<circle cx="287.78" cy="247.80" r="1.30" fill="#77AC30"/>
<circle cx="302.07" cy="247.30" r="1.30" fill="#77AC30"/>
<circle cx="316.36" cy="247.30" r="1.30" fill="#77AC30"/>
<circle cx="330.65" cy="247.30" r="1.30" fill="#77AC30"/>
<circle cx="344.94" cy="247.30" r="1.30" fill="#77AC30"/>
<circle cx="359.23" cy="247.30" r="1.30" fill="#77AC30"/>
<path d="M219.90 177.50H362.80V312.60H219.90Z" fill="none" stroke="#262626" stroke-width="1.10"/>
<line x1="219.90" y1="312.60" x2="221.40" y2="312.60" stroke="#262626" stroke-width="1"/>
<text x="217.50" y="315.10" text-anchor="end" font-family='"Liberation Serif", serif' font-size="7.20" fill="#262626">0.9815</text>
<line x1="219.90" y1="293.30" x2="221.40" y2="293.30" stroke="#262626" stroke-width="1"/>
<text x="217.50" y="295.80" text-anchor="end" font-family='"Liberation Serif", serif' font-size="7.20" fill="#262626">0.982</text>
<line x1="219.90" y1="274.00" x2="221.40" y2="274.00" stroke="#262626" stroke-width="1"/>
<text x="217.50" y="276.50" text-anchor="end" font-family='"Liberation Serif", serif' font-size="7.20" fill="#262626">0.9825</text>
<line x1="219.90" y1="254.70" x2="221.40" y2="254.70" stroke="#262626" stroke-width="1"/>
<text x="217.50" y="257.20" text-anchor="end" font-family='"Liberation Serif", serif' font-size="7.20" fill="#262626">0.983</text>
<line x1="219.90" y1="235.40" x2="221.40" y2="235.40" stroke="#262626" stroke-width="1"/>
<text x="217.50" y="237.90" text-anchor="end" font-family='"Liberation Serif", serif' font-size="7.20" fill="#262626">0.9835</text>
<line x1="219.90" y1="216.10" x2="221.40" y2="216.10" stroke="#262626" stroke-width="1"/>
<text x="217.50" y="218.60" text-anchor="end" font-family='"Liberation Serif", serif' font-size="7.20" fill="#262626">0.984</text>
<line x1="219.90" y1="196.80" x2="221.40" y2="196.80" stroke="#262626" stroke-width="1"/>
<text x="217.50" y="199.30" text-anchor="end" font-family='"Liberation Serif", serif' font-size="7.20" fill="#262626">0.9845</text>
<line x1="219.90" y1="177.50" x2="221.40" y2="177.50" stroke="#262626" stroke-width="1"/>
<text x="217.50" y="180.00" text-anchor="end" font-family='"Liberation Serif", serif' font-size="7.20" fill="#262626">0.985</text>
<line x1="252.05" y1="312.60" x2="252.05" y2="311.10" stroke="#262626" stroke-width="1"/>
<text x="252.05" y="321.80" text-anchor="middle" font-family='"Liberation Serif", serif' font-size="7.20" fill="#262626">5</text>
<line x1="287.78" y1="312.60" x2="287.78" y2="311.10" stroke="#262626" stroke-width="1"/>
<text x="287.78" y="321.80" text-anchor="middle" font-family='"Liberation Serif", serif' font-size="7.20" fill="#262626">10</text>
<line x1="323.50" y1="312.60" x2="323.50" y2="311.10" stroke="#262626" stroke-width="1"/>
<text x="323.50" y="321.80" text-anchor="middle" font-family='"Liberation Serif", serif' font-size="7.20" fill="#262626">15</text>
<line x1="359.23" y1="312.60" x2="359.23" y2="311.10" stroke="#262626" stroke-width="1"/>
<text x="359.23" y="321.80" text-anchor="middle" font-family='"Liberation Serif", serif' font-size="7.20" fill="#262626">20</text>
<text x="291.35" y="332.30" text-anchor="middle" font-family='"Liberation Serif", serif' font-size="8.40" fill="#262626">Training Time/ SR40 Epoch</text>
<text x="0" y="0" transform="translate(194.80 245.05) rotate(-90)" text-anchor="middle" font-family='"Liberation Serif", serif' font-size="8.40" fill="#262626">CC</text>
<polyline points="411.94,302.10 426.26,268.70 440.58,255.80 454.90,235.60 469.22,220.40 483.54,212.90 497.86,210.70 512.18,205.10 526.50,203.60 540.82,201.10" fill="none" stroke="#0072BD" stroke-width="2.0" stroke-opacity="0.22" stroke-linejoin="round"/>
<polyline points="411.94,302.10 426.26,268.70 440.58,255.80 454.90,235.60 469.22,220.40 483.54,212.90 497.86,210.70 512.18,205.10 526.50,203.60 540.82,201.10" fill="none" stroke="#0072BD" stroke-width="0.95" stroke-linejoin="round"/>
<circle cx="411.94" cy="302.10" r="1.30" fill="#0072BD"/>
<circle cx="426.26" cy="268.70" r="1.30" fill="#0072BD"/>
<circle cx="440.58" cy="255.80" r="1.30" fill="#0072BD"/>
<circle cx="454.90" cy="235.60" r="1.30" fill="#0072BD"/>
<circle cx="469.22" cy="220.40" r="1.30" fill="#0072BD"/>
<circle cx="483.54" cy="212.90" r="1.30" fill="#0072BD"/>
<circle cx="497.86" cy="210.70" r="1.30" fill="#0072BD"/>
<circle cx="512.18" cy="205.10" r="1.30" fill="#0072BD"/>
<circle cx="526.50" cy="203.60" r="1.30" fill="#0072BD"/>
<circle cx="540.82" cy="201.10" r="1.30" fill="#0072BD"/>
<polyline points="408.36,307.50 419.10,285.70 429.84,262.60 440.58,253.60 451.32,234.00 462.06,227.40 472.80,220.30 483.54,215.60 494.28,211.00 505.02,204.70 515.76,206.40 526.50,199.80 537.24,198.20" fill="none" stroke="#D95319" stroke-width="2.0" stroke-opacity="0.22" stroke-linejoin="round"/>
<polyline points="408.36,307.50 419.10,285.70 429.84,262.60 440.58,253.60 451.32,234.00 462.06,227.40 472.80,220.30 483.54,215.60 494.28,211.00 505.02,204.70 515.76,206.40 526.50,199.80 537.24,198.20" fill="none" stroke="#D95319" stroke-width="0.95" stroke-linejoin="round"/>
<circle cx="408.36" cy="307.50" r="1.30" fill="#D95319"/>
<circle cx="419.10" cy="285.70" r="1.30" fill="#D95319"/>
<circle cx="429.84" cy="262.60" r="1.30" fill="#D95319"/>
<circle cx="440.58" cy="253.60" r="1.30" fill="#D95319"/>
<circle cx="451.32" cy="234.00" r="1.30" fill="#D95319"/>
<circle cx="462.06" cy="227.40" r="1.30" fill="#D95319"/>
<circle cx="472.80" cy="220.30" r="1.30" fill="#D95319"/>
<circle cx="483.54" cy="215.60" r="1.30" fill="#D95319"/>
<circle cx="494.28" cy="211.00" r="1.30" fill="#D95319"/>
<circle cx="505.02" cy="204.70" r="1.30" fill="#D95319"/>
<circle cx="515.76" cy="206.40" r="1.30" fill="#D95319"/>
<circle cx="526.50" cy="199.80" r="1.30" fill="#D95319"/>
<circle cx="537.24" cy="198.20" r="1.30" fill="#D95319"/>
<polyline points="411.94,300.00 426.26,267.70 440.58,247.40 454.90,229.00 469.22,214.50 483.54,209.20 497.86,205.40 512.18,204.50 526.50,203.90 540.82,203.90" fill="none" stroke="#EDB120" stroke-width="2.0" stroke-opacity="0.22" stroke-linejoin="round"/>
<polyline points="411.94,300.00 426.26,267.70 440.58,247.40 454.90,229.00 469.22,214.50 483.54,209.20 497.86,205.40 512.18,204.50 526.50,203.90 540.82,203.90" fill="none" stroke="#EDB120" stroke-width="0.95" stroke-linejoin="round"/>
<circle cx="411.94" cy="300.00" r="1.30" fill="#EDB120"/>
<circle cx="426.26" cy="267.70" r="1.30" fill="#EDB120"/>
<circle cx="440.58" cy="247.40" r="1.30" fill="#EDB120"/>
<circle cx="454.90" cy="229.00" r="1.30" fill="#EDB120"/>
<circle cx="469.22" cy="214.50" r="1.30" fill="#EDB120"/>
<circle cx="483.54" cy="209.20" r="1.30" fill="#EDB120"/>
<circle cx="497.86" cy="205.40" r="1.30" fill="#EDB120"/>
<circle cx="512.18" cy="204.50" r="1.30" fill="#EDB120"/>
<circle cx="526.50" cy="203.90" r="1.30" fill="#EDB120"/>
<circle cx="540.82" cy="203.90" r="1.30" fill="#EDB120"/>
<polyline points="411.94,298.70 426.26,264.20 440.58,240.30 454.90,227.70 469.22,223.50 483.54,226.00 497.86,223.50 512.18,222.20 526.50,222.50 540.82,221.70" fill="none" stroke="#7E2F8E" stroke-width="2.0" stroke-opacity="0.22" stroke-linejoin="round"/>
<polyline points="411.94,298.70 426.26,264.20 440.58,240.30 454.90,227.70 469.22,223.50 483.54,226.00 497.86,223.50 512.18,222.20 526.50,222.50 540.82,221.70" fill="none" stroke="#7E2F8E" stroke-width="0.95" stroke-linejoin="round"/>
<circle cx="411.94" cy="298.70" r="1.30" fill="#7E2F8E"/>
<circle cx="426.26" cy="264.20" r="1.30" fill="#7E2F8E"/>
<circle cx="440.58" cy="240.30" r="1.30" fill="#7E2F8E"/>
<circle cx="454.90" cy="227.70" r="1.30" fill="#7E2F8E"/>
<circle cx="469.22" cy="223.50" r="1.30" fill="#7E2F8E"/>
<circle cx="483.54" cy="226.00" r="1.30" fill="#7E2F8E"/>
<circle cx="497.86" cy="223.50" r="1.30" fill="#7E2F8E"/>
<circle cx="512.18" cy="222.20" r="1.30" fill="#7E2F8E"/>
<circle cx="526.50" cy="222.50" r="1.30" fill="#7E2F8E"/>
<circle cx="540.82" cy="221.70" r="1.30" fill="#7E2F8E"/>
<polyline points="411.94,300.80 426.26,270.10 440.58,264.00 454.90,261.30 469.22,260.80 483.54,260.30 497.86,260.30 512.18,260.30 526.50,260.30 540.82,260.30" fill="none" stroke="#77AC30" stroke-width="2.0" stroke-opacity="0.22" stroke-linejoin="round"/>
<polyline points="411.94,300.80 426.26,270.10 440.58,264.00 454.90,261.30 469.22,260.80 483.54,260.30 497.86,260.30 512.18,260.30 526.50,260.30 540.82,260.30" fill="none" stroke="#77AC30" stroke-width="0.95" stroke-linejoin="round"/>
<circle cx="411.94" cy="300.80" r="1.30" fill="#77AC30"/>
<circle cx="426.26" cy="270.10" r="1.30" fill="#77AC30"/>
<circle cx="440.58" cy="264.00" r="1.30" fill="#77AC30"/>
<circle cx="454.90" cy="261.30" r="1.30" fill="#77AC30"/>
<circle cx="469.22" cy="260.80" r="1.30" fill="#77AC30"/>
<circle cx="483.54" cy="260.30" r="1.30" fill="#77AC30"/>
<circle cx="497.86" cy="260.30" r="1.30" fill="#77AC30"/>
<circle cx="512.18" cy="260.30" r="1.30" fill="#77AC30"/>
<circle cx="526.50" cy="260.30" r="1.30" fill="#77AC30"/>
<circle cx="540.82" cy="260.30" r="1.30" fill="#77AC30"/>
<path d="M401.20 177.50H544.40V312.60H401.20Z" fill="none" stroke="#262626" stroke-width="1.10"/>
<line x1="401.20" y1="312.60" x2="402.70" y2="312.60" stroke="#262626" stroke-width="1"/>
<text x="398.80" y="315.10" text-anchor="end" font-family='"Liberation Serif", serif' font-size="7.20" fill="#262626">0.9885</text>
<line x1="401.20" y1="278.83" x2="402.70" y2="278.83" stroke="#262626" stroke-width="1"/>
<text x="398.80" y="281.33" text-anchor="end" font-family='"Liberation Serif", serif' font-size="7.20" fill="#262626">0.989</text>
<line x1="401.20" y1="245.05" x2="402.70" y2="245.05" stroke="#262626" stroke-width="1"/>
<text x="398.80" y="247.55" text-anchor="end" font-family='"Liberation Serif", serif' font-size="7.20" fill="#262626">0.9895</text>
<line x1="401.20" y1="211.28" x2="402.70" y2="211.28" stroke="#262626" stroke-width="1"/>
<text x="398.80" y="213.78" text-anchor="end" font-family='"Liberation Serif", serif' font-size="7.20" fill="#262626">0.99</text>
<line x1="401.20" y1="177.50" x2="402.70" y2="177.50" stroke="#262626" stroke-width="1"/>
<text x="398.80" y="180.00" text-anchor="end" font-family='"Liberation Serif", serif' font-size="7.20" fill="#262626">0.9905</text>
<line x1="433.42" y1="312.60" x2="433.42" y2="311.10" stroke="#262626" stroke-width="1"/>
<text x="433.42" y="321.80" text-anchor="middle" font-family='"Liberation Serif", serif' font-size="7.20" fill="#262626">5</text>
<line x1="469.22" y1="312.60" x2="469.22" y2="311.10" stroke="#262626" stroke-width="1"/>
<text x="469.22" y="321.80" text-anchor="middle" font-family='"Liberation Serif", serif' font-size="7.20" fill="#262626">10</text>
<line x1="505.02" y1="312.60" x2="505.02" y2="311.10" stroke="#262626" stroke-width="1"/>
<text x="505.02" y="321.80" text-anchor="middle" font-family='"Liberation Serif", serif' font-size="7.20" fill="#262626">15</text>
<line x1="540.82" y1="312.60" x2="540.82" y2="311.10" stroke="#262626" stroke-width="1"/>
<text x="540.82" y="321.80" text-anchor="middle" font-family='"Liberation Serif", serif' font-size="7.20" fill="#262626">20</text>
<text x="472.80" y="332.30" text-anchor="middle" font-family='"Liberation Serif", serif' font-size="8.40" fill="#262626">Training Time/ SR40 Epoch</text>
<text x="0" y="0" transform="translate(376.80 245.05) rotate(-90)" text-anchor="middle" font-family='"Liberation Serif", serif' font-size="8.40" fill="#262626">SSIM</text>
<line x1="101.80" y1="348.00" x2="114.00" y2="348.00" stroke="#0072BD" stroke-width="1.5"/>
<circle cx="107.90" cy="348.00" r="1.75" fill="#0072BD"/>
<text x="123.30" y="350.40" font-family='"Liberation Serif", serif' font-size="8.40" fill="#404040" style="stroke-width:0px">SR40</text>
<line x1="160.90" y1="348.00" x2="173.30" y2="348.00" stroke="#D95319" stroke-width="1.5"/>
<circle cx="167.10" cy="348.00" r="1.75" fill="#D95319"/>
<text x="182.70" y="350.40" font-family='"Liberation Serif", serif' font-size="8.40" fill="#404040" style="stroke-width:0px">SR40-0.750</text>
<line x1="242.20" y1="348.00" x2="254.20" y2="348.00" stroke="#EDB120" stroke-width="1.5"/>
<circle cx="248.20" cy="348.00" r="1.75" fill="#EDB120"/>
<text x="263.20" y="350.40" font-family='"Liberation Serif", serif' font-size="8.40" fill="#404040" style="stroke-width:0px">SR40-0.501</text>
<line x1="323.20" y1="348.00" x2="335.50" y2="348.00" stroke="#7E2F8E" stroke-width="1.5"/>
<circle cx="329.35" cy="348.00" r="1.75" fill="#7E2F8E"/>
<text x="343.60" y="350.40" font-family='"Liberation Serif", serif' font-size="8.40" fill="#404040" style="stroke-width:0px">SR40-0.251</text>
<line x1="402.70" y1="348.00" x2="415.80" y2="348.00" stroke="#77AC30" stroke-width="1.5"/>
<circle cx="409.25" cy="348.00" r="1.75" fill="#77AC30"/>
<text x="425.10" y="350.40" font-family='"Liberation Serif", serif' font-size="8.40" fill="#404040" style="stroke-width:0px">SR40-0.126</text>
</svg></body></html>
